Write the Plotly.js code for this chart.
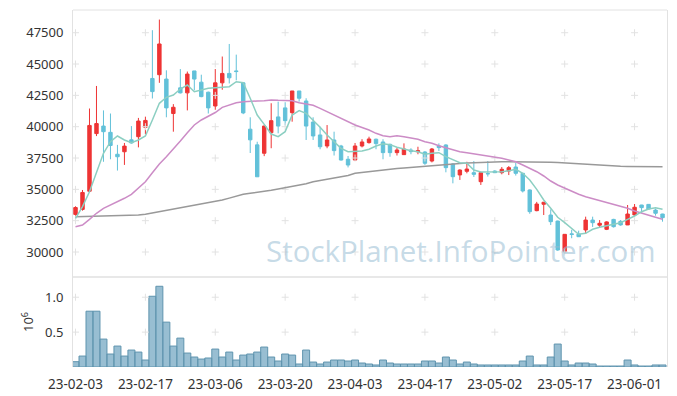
<!DOCTYPE html>
<html>
<head>
<meta charset="utf-8">
<script src="https://cdn.plot.ly/plotly-3.0.1.min.js"></script>
<style>html,body{margin:0;padding:0;background:#fff;}#chart{width:677px;height:396px;}</style>
</head>
<body>
<div id="chart"></div>
<script>
const dates = ["23-02-03","23-02-06","23-02-07","23-02-08","23-02-09","23-02-10","23-02-13","23-02-14","23-02-15","23-02-16",
"23-02-17","23-02-20","23-02-21","23-02-22","23-02-23","23-02-24","23-02-27","23-02-28","23-03-02","23-03-03",
"23-03-06","23-03-07","23-03-08","23-03-09","23-03-10","23-03-13","23-03-14","23-03-15","23-03-16","23-03-17",
"23-03-20","23-03-21","23-03-22","23-03-23","23-03-24","23-03-27","23-03-28","23-03-29","23-03-30","23-03-31",
"23-04-03","23-04-04","23-04-05","23-04-06","23-04-07","23-04-10","23-04-11","23-04-12","23-04-13","23-04-14",
"23-04-17","23-04-18","23-04-19","23-04-20","23-04-21","23-04-24","23-04-25","23-04-26","23-04-27","23-04-28",
"23-05-02","23-05-03","23-05-04","23-05-08","23-05-09","23-05-10","23-05-11","23-05-12","23-05-15","23-05-16",
"23-05-17","23-05-18","23-05-19","23-05-22","23-05-23","23-05-24","23-05-25","23-05-26","23-05-30","23-05-31",
"23-06-01","23-06-02","23-06-05","23-06-07","23-06-08"];

const open = [33000,33400,34850,39450,40050,39550,37800,38000,38950,39200,
39950,43850,44150,43800,41050,43100,42700,44450,43550,42750,
41650,43500,44250,44450,43500,39800,38550,37880,39520,40780,
41500,41120,42850,42050,40370,39340,38460,38940,38460,37400,
37340,38460,38730,39000,38780,38590,37930,37770,38140,38000,
37980,37260,38460,38540,37020,36150,36440,36330,35610,36260,
36460,36330,36460,36780,36280,34950,33300,33810,32950,32470,
30030,31450,31430,31760,32550,32140,31810,32600,32450,32160,
32960,33750,33800,33350,33030];
const high = [33650,34950,41450,43250,41300,41050,38550,38700,40050,40700,
40800,47700,48550,44500,41800,44600,44400,44450,44150,42800,
44600,45600,46600,45750,43550,40750,38800,40100,41870,42000,
41950,42850,42850,42270,40750,40000,40130,39600,38550,37660,
38700,39000,39200,39050,39000,38650,38300,38670,38280,38400,
38050,38300,38670,38600,37100,36600,37200,37260,36400,37260,
36520,36780,36860,37100,36300,35000,34000,34000,33400,32500,
31420,31770,31700,32820,32820,32550,32450,32650,32550,33750,
33830,33760,33830,33450,33050];
const low = [32900,33300,34800,39250,37200,37400,36500,36950,38650,38350,
39400,42250,43500,40750,39600,42650,41300,42900,42350,41050,
41350,42950,43450,43700,41000,37900,36000,37650,38280,39470,
40100,40400,42000,38940,38940,38200,38280,37700,37300,36750,
37300,38350,38650,38200,37400,37600,37700,37750,37800,37800,
36950,37150,38060,36360,35480,35750,36280,35990,35350,36020,
36300,36200,36140,36100,34750,33050,33250,32950,32150,30100,
29950,31100,31200,31440,32000,31970,31750,31950,32100,32150,
32880,33130,33400,32900,32420];
const close = [33550,34750,40100,40250,39600,38500,37600,38450,38700,40450,
40500,42800,46600,41500,41550,42700,44200,43800,42400,41500,
43500,44250,43900,44400,41100,38950,36000,40050,40480,40050,
40480,42850,42270,40050,39260,38400,38940,38090,37340,36940,
38460,38780,39020,38650,37930,37930,38140,38220,38010,38080,
37080,38220,38330,36730,36010,36540,36620,36200,36330,36240,
36330,36600,36730,36280,34870,33220,33830,33970,32420,30160,
31410,31400,31220,32550,32340,32290,32400,32020,32160,33030,
33570,33540,33430,33090,32740];

const ma5 = [32690,33616,34812,36280,37876,38802,39257,38938,38725,38938,
39257,40534,41866,42345,42529,43007,43327,42795,42928,43062,
43114,43142,43194,43590,43510,42265,40933,40188,39416,39204,
39603,40933,41280,41066,40534,39949,39337,38802,38275,38005,
38005,38060,38200,38459,38643,38566,38355,38195,38086,38005,
37796,37876,37926,37607,37342,37126,37078,36544,36384,36384,
36408,36408,36488,36597,36280,35746,35003,34150,33487,32769,
32338,31890,31412,31492,31810,31970,32075,32234,32338,32607,
32873,33216,33431,33535,33407];
const ma20 = [32019,32155,32607,33088,33487,33750,34014,34285,34605,35083,
35610,36330,37022,37607,38195,38858,39520,40135,40534,40853,
41130,41545,41730,41916,41996,42050,42050,42075,42130,42103,
42075,42075,41916,41810,41704,41465,41196,40933,40667,40400,
40135,39935,39736,39470,39280,39200,39280,39200,39097,38993,
38802,38674,38483,38325,38140,38005,37926,37846,37740,37660,
37580,37477,37342,37206,36943,36680,36408,36065,35666,35347,
35083,34812,34605,34413,34253,34094,33935,33806,33671,33487,
33272,33088,32953,32769,32607];
const ma60 = [32820,32830,32840,32850,32860,32870,32880,32900,32920,32950,
33020,33120,33230,33330,33430,33530,33620,33710,33800,33900,
34000,34150,34300,34450,34600,34680,34750,34820,34930,35030,
35130,35230,35300,35450,35600,35720,35800,35900,36000,36100,
36280,36350,36420,36480,36540,36610,36660,36710,36760,36810,
36860,36900,36940,36980,37030,37070,37100,37130,37150,37170,
37190,37200,37210,37210,37210,37200,37200,37190,37170,37140,
37100,37060,37020,36980,36940,36910,36880,36860,36840,36830,
36820,36810,36810,36810,36810];

// volume in millions
const volume = [0.076,0.157,0.80,0.80,0.40,0.186,0.30,0.157,0.243,0.214,
0.10,1.014,1.157,0.643,0.30,0.414,0.20,0.143,0.114,0.129,
0.257,0.143,0.214,0.10,0.171,0.186,0.214,0.286,0.143,0.086,
0.186,0.171,0.043,0.243,0.071,0.043,0.071,0.10,0.10,0.086,
0.10,0.057,0.043,0.029,0.10,0.057,0.043,0.043,0.043,0.043,
0.086,0.086,0.057,0.143,0.10,0.043,0.071,0.043,0.029,0.029,
0.029,0.029,0.029,0.029,0.086,0.157,0.029,0.029,0.143,0.329,
0.086,0.029,0.057,0.057,0.043,0.014,0.014,0.014,0.014,0.10,
0.029,0.014,0.014,0.029,0.029];

const priceTicks = [30000,32500,35000,37500,40000,42500,45000,47500];
const volTicks = [0.5,1.0];
const xTickIdx = [0,10,20,30,40,50,60,70,80];
const xTickLabels = xTickIdx.map(i => dates[i]);
const watermark = "StockPlanet.InfoPointer.com";

const fontFam = "'Noto Sans', 'Open Sans', sans-serif";
const gridCol = '#e2e2e2';

function crossGrid(yvals, yaxis) {
  const xs = [], ys = [];
  xTickLabels.forEach(xl => yvals.forEach(yv => { xs.push(xl); ys.push(yv); }));
  return {type:'scatter', mode:'markers', x:xs, y:ys, xaxis:'x', yaxis:yaxis,
    hoverinfo:'skip', showlegend:false,
    marker:{symbol:'cross-thin', size:5, line:{color:gridCol, width:1}, color:gridCol}};
}

const traces = [
  {type:'bar', x:dates, y:volume, xaxis:'x', yaxis:'y2', showlegend:false,
   marker:{color:'rgba(112,165,192,0.72)', line:{color:'#5f94ae', width:1}}},
  crossGrid(priceTicks, 'y'),
  crossGrid(volTicks, 'y2'),
  {type:'scatter', mode:'lines', x:dates, y:ma60, xaxis:'x', yaxis:'y', showlegend:false,
   line:{color:'#999999', width:1.5}},
  {type:'scatter', mode:'lines', x:dates, y:ma20, xaxis:'x', yaxis:'y', showlegend:false,
   line:{color:'#cc8cc6', width:1.5}},
  {type:'scatter', mode:'lines', x:dates, y:ma5, xaxis:'x', yaxis:'y', showlegend:false,
   line:{color:'#8ccfc2', width:1.5}},
  {type:'candlestick', x:dates, open:open, high:high, low:low, close:close,
   xaxis:'x', yaxis:'y', showlegend:false, whiskerwidth:0,
   increasing:{line:{color:'#ee3434', width:1}, fillcolor:'#ee3434'},
   decreasing:{line:{color:'#62c1d9', width:1}, fillcolor:'#62c1d9'}}
];

const split = 90/357;
const layout = {
  width:677, height:396,
  margin:{l:73, r:10, t:10, b:29, pad:0},
  paper_bgcolor:'#ffffff', plot_bgcolor:'#ffffff',
  font:{family:fontFam, size:13, color:'#333'},
  showlegend:false,
  bargap:0,
  xaxis:{type:'category', anchor:'y2', range:[-0.36, 84.64],
    categoryorder:'array', categoryarray:dates,
    tickmode:'array', tickvals:xTickLabels, ticktext:xTickLabels,
    showgrid:false, zeroline:false, showline:false,
    ticks:'outside', ticklen:5, tickcolor:'rgba(0,0,0,0)',
    rangeslider:{visible:false}, tickfont:{size:13.5, color:'#333'}},
  yaxis:{domain:[split,1], range:[28005,49312], tickmode:'array', tickvals:priceTicks,
    tickformat:'d', showgrid:false, zeroline:false,
    showline:true, mirror:true, linecolor:'#e2e2e2', linewidth:1,
    ticks:'outside', ticklen:6, tickcolor:'rgba(0,0,0,0)', tickfont:{size:13, color:'#333'}},
  yaxis2:{domain:[0,split], range:[0,1.29], tickmode:'array', tickvals:volTicks,
    tickformat:'.1f', showgrid:false, zeroline:false,
    showline:true, mirror:true, linecolor:'#e2e2e2', linewidth:1,
    ticks:'outside', ticklen:6, tickcolor:'rgba(0,0,0,0)', tickfont:{size:13, color:'#333'},
    title:{text:'10<sup>6</sup>', font:{size:13, color:'#333'}, standoff:8}},
  shapes:[
    {type:'line', xref:'paper', yref:'paper', x0:0, x1:1, y0:1, y1:1, line:{color:'#e2e2e2', width:1}},
    {type:'line', xref:'paper', yref:'paper', x0:0, x1:1, y0:split, y1:split, line:{color:'#e0e0e0', width:1.5}}
  ],
  annotations:[
    {text:watermark, xref:'paper', yref:'paper', x:0.653, y:0.325, xanchor:'center', yanchor:'middle',
     showarrow:false, font:{family:"'Open Sans', sans-serif", size:29.5, color:'rgba(150,188,210,0.55)'}}
  ]
};

Plotly.newPlot('chart', traces, layout, {displayModeBar:false, staticPlot:true});
</script>
</body>
</html>
